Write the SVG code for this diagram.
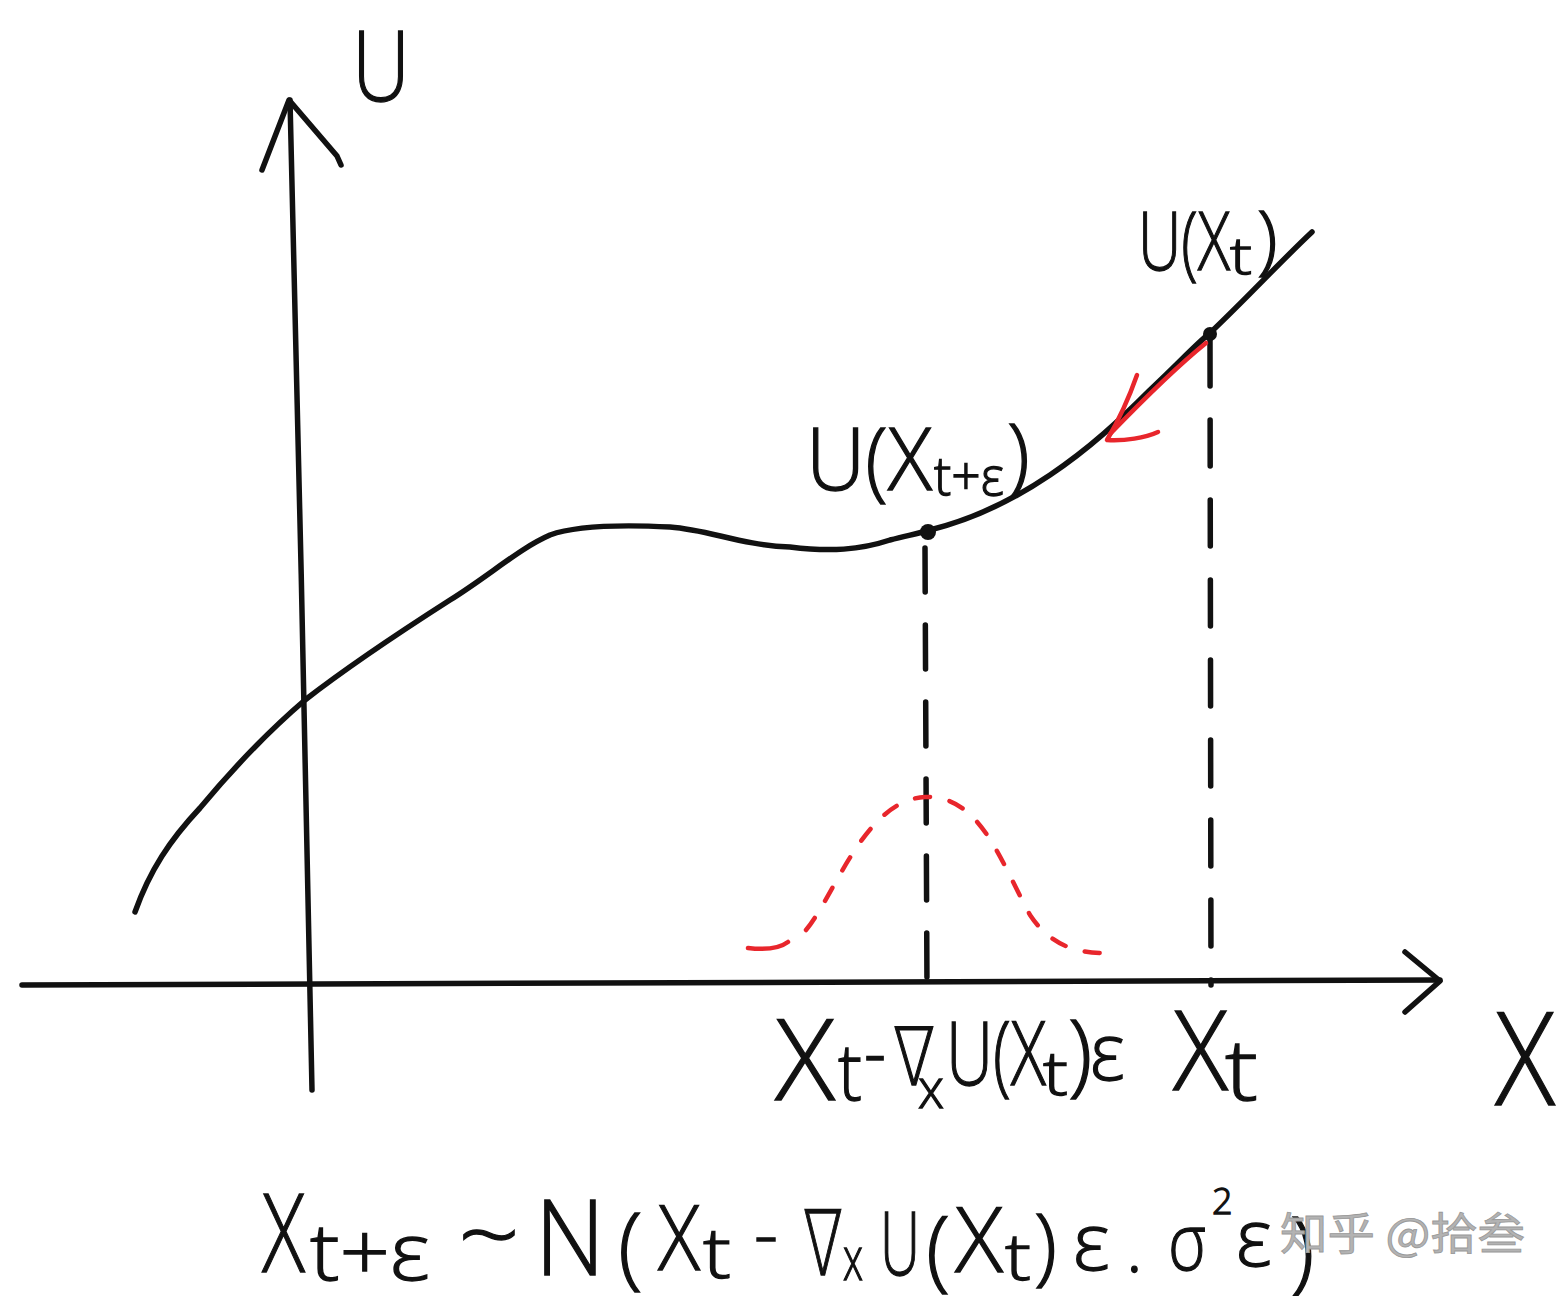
<svg xmlns="http://www.w3.org/2000/svg" width="1564" height="1296" viewBox="0 0 1564 1296">
<style>
.ink{fill:none;stroke:#111;stroke-width:5.5;stroke-linecap:round;stroke-linejoin:round}
.red{fill:none;stroke:#e8262c;stroke-width:4.5;stroke-linecap:round;stroke-linejoin:round}
.t{font-family:'Open Sans','Liberation Sans','DejaVu Sans',sans-serif;font-weight:300;fill:#111;stroke:#111;stroke-width:1.3}
.wm{font-family:'Noto Sans CJK SC','Noto Sans',sans-serif;fill:#b3b3b3;stroke:#999;stroke-width:0.8}
</style>
<rect width="1564" height="1296" fill="#fff"/>
<g id="axes">
  <path class="ink" d="M312,1090 C306,800 298,400 290,100"/>
  <path class="ink" d="M262,170 L289,100 L337,156 L341,165"/>
  <path class="ink" d="M22,985 L1440,980"/>
  <path class="ink" d="M1405,952 L1440,981 L1405,1012"/>
</g>
<g id="curve">
  <path class="ink" d="M135,912 C150,870 170,840 200,808 C240,760 270,730 305,700 C350,665 400,632 450,600 C490,575 520,548 550,535 C580,524 630,525 670,527 C710,530 740,545 790,547 C830,552 860,550 890,540 C910,535 920,533 930,530 C970,520 1010,502 1050,475 C1090,448 1120,420 1150,390 C1180,362 1195,345 1210,333 C1250,295 1280,262 1312,232"/>
  <circle cx="928" cy="532" r="8" fill="#111"/>
  <circle cx="1210" cy="334" r="7" fill="#111"/>
</g>
<g id="connectors">
  <path class="ink" d="M925,548 L927,990" stroke-dasharray="44 33"/>
  <path class="ink" d="M1210,340 L1211,985" stroke-dasharray="46 34"/>
  <path class="red" d="M1206,343 C1175,368 1140,403 1110,434"/>
  <path class="red" d="M1137,375 C1130,395 1120,418 1107,440 C1125,441 1145,438 1158,432"/>
</g>
<g id="gaussian">
  <path class="red" d="M748,948 C765,950 780,948 788,942"/>
  <path class="red" d="M806,930 C835,895 865,800 925,797 C980,795 1000,860 1030,915 C1050,945 1075,952 1100,953" stroke-dasharray="15 20"/>
</g>
<g id="label-U">
  <text class="t" x="352" y="101" font-size="98" textLength="58" lengthAdjust="spacingAndGlyphs">U</text>
</g>
<g id="label-X">
  <text class="t" x="1495" y="1105" font-size="130" textLength="60" lengthAdjust="spacingAndGlyphs">X</text>
</g>
<g id="label-UXt">
  <text class="t" x="1138" y="270" font-size="82" textLength="92" lengthAdjust="spacingAndGlyphs">U(X</text>
  <text class="t" x="1230" y="274" font-size="52" textLength="22" lengthAdjust="spacingAndGlyphs">t</text>
  <text class="t" x="1257" y="265" font-size="76">)</text>
</g>
<g id="label-UXte">
  <text class="t" x="806" y="490" font-size="86" textLength="126" lengthAdjust="spacingAndGlyphs">U(X</text>
  <text class="t" x="934" y="495" font-size="54" textLength="70" lengthAdjust="spacingAndGlyphs">t+ε</text>
  <text class="t" x="1007" y="485" font-size="84">)</text>
</g>
<g id="label-mean">
  <text class="t" x="775" y="1100" font-size="112" textLength="60" lengthAdjust="spacingAndGlyphs">X</text>
  <text class="t" x="838" y="1100" font-size="80" textLength="24" lengthAdjust="spacingAndGlyphs">t</text>
  <text class="t" x="864" y="1080" font-size="80" textLength="22" lengthAdjust="spacingAndGlyphs">-</text>
  <text class="t" x="893" y="1085" font-size="80" textLength="42" lengthAdjust="spacingAndGlyphs">∇</text>
  <text class="t" x="918" y="1108" font-size="55" textLength="26" lengthAdjust="spacingAndGlyphs">x</text>
  <text class="t" x="946" y="1085" font-size="88" textLength="100" lengthAdjust="spacingAndGlyphs">U(X</text>
  <text class="t" x="1043" y="1095" font-size="60" textLength="25" lengthAdjust="spacingAndGlyphs">t</text>
  <text class="t" x="1068" y="1085" font-size="90">)</text>
  <text class="t" x="1090" y="1080" font-size="80" textLength="35" lengthAdjust="spacingAndGlyphs">ε</text>
</g>
<g id="label-Xt">
  <text class="t" x="1173" y="1090" font-size="110" textLength="55" lengthAdjust="spacingAndGlyphs">X</text>
  <text class="t" x="1225" y="1100" font-size="85" textLength="33" lengthAdjust="spacingAndGlyphs">t</text>
</g>
<g id="formula">
  <text class="t" x="262" y="1272" font-size="108" textLength="43" lengthAdjust="spacingAndGlyphs">X</text>
  <text class="t" x="310" y="1280" font-size="80" textLength="120" lengthAdjust="spacingAndGlyphs">t+ε</text>
  <text class="t" x="458" y="1270" font-size="100" textLength="62" lengthAdjust="spacingAndGlyphs">~</text>
  <text class="t" x="535" y="1275" font-size="105" textLength="70" lengthAdjust="spacingAndGlyphs">N</text>
  <text class="t" x="618" y="1278" font-size="90">(</text>
  <text class="t" x="658" y="1270" font-size="90" textLength="42" lengthAdjust="spacingAndGlyphs">X</text>
  <text class="t" x="703" y="1278" font-size="70" textLength="28" lengthAdjust="spacingAndGlyphs">t</text>
  <text class="t" x="754" y="1258" font-size="70" textLength="24" lengthAdjust="spacingAndGlyphs">-</text>
  <text class="t" x="803" y="1275" font-size="90" textLength="40" lengthAdjust="spacingAndGlyphs">∇</text>
  <text class="t" x="843" y="1280" font-size="60" textLength="20" lengthAdjust="spacingAndGlyphs">x</text>
  <text class="t" x="880" y="1275" font-size="88" textLength="40" lengthAdjust="spacingAndGlyphs">U</text>
  <text class="t" x="926" y="1280" font-size="88">(</text>
  <text class="t" x="955" y="1272" font-size="90" textLength="48" lengthAdjust="spacingAndGlyphs">X</text>
  <text class="t" x="1005" y="1280" font-size="65" textLength="26" lengthAdjust="spacingAndGlyphs">t</text>
  <text class="t" x="1034" y="1275" font-size="85">)</text>
  <text class="t" x="1073" y="1270" font-size="80" textLength="37" lengthAdjust="spacingAndGlyphs">ε</text>
  <text class="t" x="1126" y="1272" font-size="70">.</text>
  <text class="t" x="1168" y="1270" font-size="80" textLength="38" lengthAdjust="spacingAndGlyphs">σ</text>
  <text class="t" x="1212" y="1214" font-size="36" stroke-width="2.5">2</text>
  <text class="t" x="1236" y="1266" font-size="80" textLength="36" lengthAdjust="spacingAndGlyphs">ε</text>
  <text class="t" x="1290" y="1282" font-size="90">)</text>
</g>
<g id="watermark">
  <text class="wm" x="1280" y="1250" font-size="44" textLength="245" lengthAdjust="spacingAndGlyphs">知乎 @拾叁</text>
</g>
</svg>
